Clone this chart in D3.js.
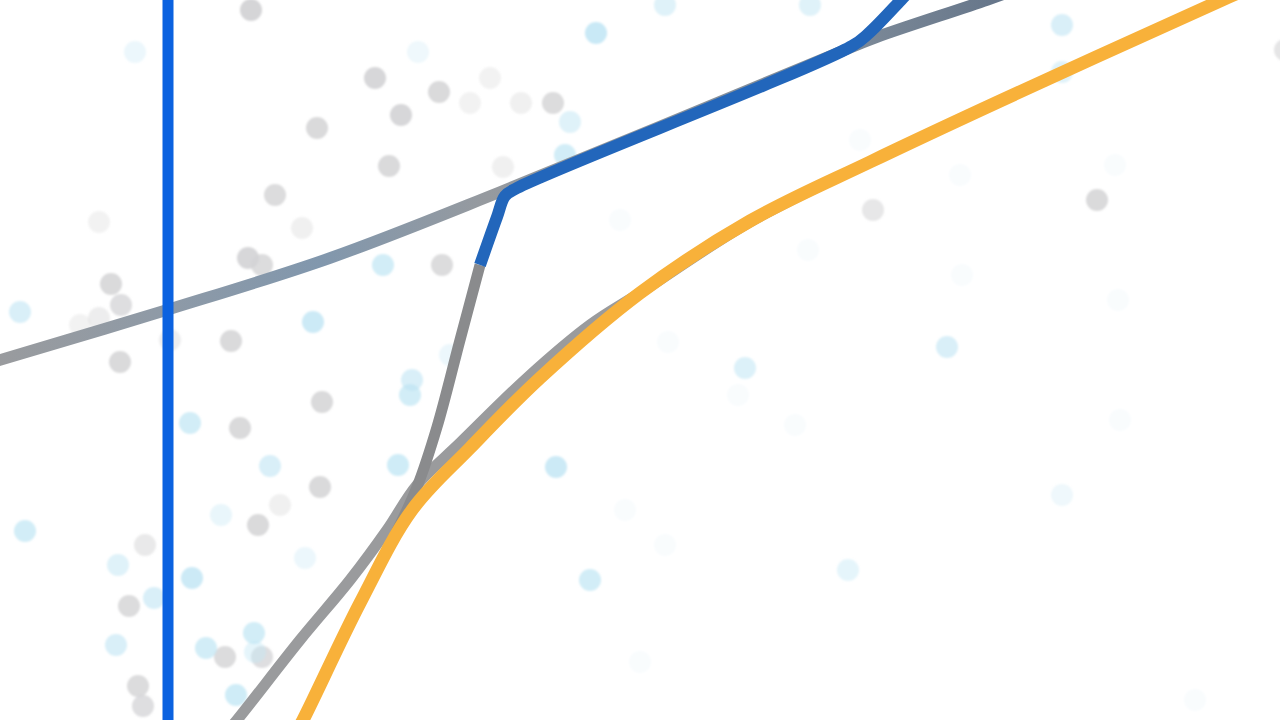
<!DOCTYPE html>
<html><head><meta charset="utf-8">
<script src="https://cdn.jsdelivr.net/npm/d3@7"></script>
<style>html,body{margin:0;padding:0;background:#fff;overflow:hidden}</style>
</head><body>
<svg id="c" width="1280" height="720"></svg>
<script>
// data units: x 0..128, y 0..72 (y up)
const grayDots = [
 [25.1,71.0,0.95],[37.5,64.2,0.9],[43.9,62.8,0.85],[40.1,60.5,0.9],[31.7,59.2,0.85],[55.3,61.7,0.8],
 [38.9,55.4,0.85],[27.5,52.5,0.8],[50.3,55.3,0.35],[24.8,46.2,0.9],[26.2,45.5,0.8],[44.2,45.5,0.8],
 [11.1,43.6,0.85],[12.1,41.5,0.75],[9.9,40.2,0.4],[8.0,39.5,0.3],[12.0,35.8,0.85],[23.1,37.9,0.85],
 [32.2,31.8,0.85],[24.0,29.2,0.85],[32.0,23.3,0.85],[25.8,19.5,0.85],[14.5,17.5,0.5],[12.9,11.4,0.8],
 [22.5,6.3,0.8],[26.2,6.3,0.75],[13.8,3.4,0.8],[14.3,1.4,0.75],[87.3,51.0,0.55],[109.7,52.0,0.85],
 [9.9,49.8,0.3],[30.2,49.2,0.35],[49.0,64.2,0.3],[52.1,61.7,0.35],[47.0,61.7,0.3],[128.5,67.0,0.6],
 [28.0,21.5,0.35],[17.0,38.0,0.4]
];
const blueDots = [
 [59.6,68.7,0.85],[56.5,56.5,0.7],[57.0,59.8,0.5],[38.3,45.5,0.7],[31.3,39.8,0.8],[2.0,40.8,0.6],
 [41.0,32.5,0.7],[41.2,34.0,0.6],[19.0,29.7,0.7],[27.0,25.4,0.6],[39.8,25.5,0.75],[55.6,25.3,0.8],
 [2.5,18.9,0.7],[11.8,15.5,0.5],[19.2,14.2,0.8],[15.4,12.2,0.6],[11.6,7.5,0.6],[20.6,7.2,0.7],
 [25.4,8.7,0.7],[23.6,2.5,0.75],[59.0,14.0,0.7],[106.2,69.5,0.6],[106.2,64.8,0.5],[94.7,37.3,0.6],
 [74.5,35.2,0.55],[84.8,15.0,0.4],[106.2,22.5,0.25],[66.5,71.5,0.5],[81.0,71.5,0.5],[13.5,66.8,0.3],
 [41.8,66.8,0.25],[22.1,20.5,0.35],[30.5,16.2,0.3],[45.0,36.5,0.3],[25.5,6.8,0.4]
];
const faintDots = [
 [111.5,55.5],[96.2,44.5],[111.8,42.0],[80.8,47.0],[66.8,37.8],[73.8,32.5],[62.5,21.0],[66.5,17.5],
 [79.5,29.5],[119.5,2.0],[64.0,5.8],[96.0,54.5],[112.0,30.0],[62.0,50.0],[86.0,58.0]
];
const vLine = [[16.8,-2],[16.8,74]];
const lineA = [[-1,35.7],[0,36.0],[17.0,41.1],[33.0,46.2],[50.0,52.8],[85.2,67.3],[87.7,68.3],[98.7,72.0],[102,73.2]];
const lineC = [[22.0,-2],[23.7,0],[30.0,8.0],[35.0,14.0],[38.7,19.0],[41.7,23.5],[46.0,27.7],[52.7,34.2],[59.0,39.5],[64.0,42.7],[75.0,49.8],[87.0,55.8]];
const lineBgray = [[39.5,18.5],[41.7,23.3],[43.7,29.3],[46.0,38.0],[48.0,45.5]];
const lineBblue = [[48.0,45.5],[49.7,50.3],[50.5,52.4],[51.7,53.2],[85.2,67.4],[86.9,68.7],[90.1,72.0],[91.5,73.5]];
const orange = [[29.2,-2],[30.3,0],[36.0,11.7],[41.2,21.0],[47.0,27.2],[54.0,34.2],[64.0,42.7],[75.0,49.9],[87.0,55.8],[100.0,61.9],[122.2,72.0],[124.5,73.0]];

const W=1280,H=720;
const x=d3.scaleLinear().domain([0,128]).range([0,W]);
const y=d3.scaleLinear().domain([0,72]).range([H,0]);
const svg=d3.select("#c");
const defs=svg.append("defs");
defs.append("filter").attr("id","soft").append("feGaussianBlur").attr("stdDeviation",1.2);
const gA=defs.append("linearGradient").attr("id","gA").attr("gradientUnits","userSpaceOnUse")
  .attr("x1",0).attr("x2",W).attr("y1",0).attr("y2",0);
[[0,"#999b9e"],[0.12,"#8f9aa6"],[0.25,"#8197ad"],[0.38,"#969a9f"],[0.66,"#7e8b99"],[0.78,"#66768a"]].forEach(s=>gA.append("stop").attr("offset",s[0]).attr("stop-color",s[1]));

const dots=svg.append("g").attr("filter","url(#soft)");
dots.selectAll(".f").data(faintDots).join("circle").attr("cx",d=>x(d[0])).attr("cy",d=>y(d[1])).attr("r",11).attr("fill","#eef6fa").attr("opacity",0.35);
dots.selectAll(".g").data(grayDots).join("circle").attr("cx",d=>x(d[0])).attr("cy",d=>y(d[1])).attr("r",11).attr("fill","#d3d3d5").attr("opacity",d=>d[2]);
dots.selectAll(".b").data(blueDots).join("circle").attr("cx",d=>x(d[0])).attr("cy",d=>y(d[1])).attr("r",11).attr("fill","#bfe5f4").attr("opacity",d=>d[2]);

const lineS=d3.line().x(d=>x(d[0])).y(d=>y(d[1])).curve(d3.curveLinear);
const lineK=d3.line().x(d=>x(d[0])).y(d=>y(d[1])).curve(d3.curveCatmullRom.alpha(0.5));
const draw=(data,col,w,gen)=>svg.append("path").datum(data).attr("d",gen).attr("fill","none")
  .attr("stroke",col).attr("stroke-width",w).attr("stroke-linejoin","round").attr("stroke-linecap","butt");
draw(lineA,"url(#gA)",11.5,lineK);
draw(lineC,"#9a9b9d",11,lineK);
draw(lineBgray,"#8a8b8d",11,lineK);
draw(orange,"#f8b13a",13,lineK);
draw(lineBblue,"#2266bb",12,lineK);
draw(vLine,"#0b62e0",11,lineS);
</script>
</body></html>
